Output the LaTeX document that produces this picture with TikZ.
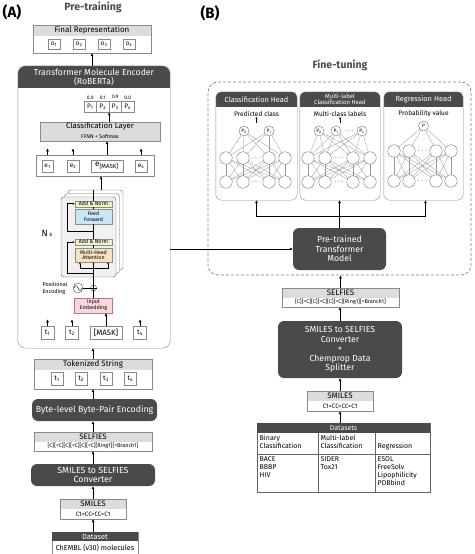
\documentclass[tikz,border=0pt]{standalone}
\usepackage{fontspec}
\setmainfont{Fira Sans}
\usetikzlibrary{arrows.meta,positioning}

\definecolor{darkhead}{HTML}{4A4A4A}
\definecolor{bandgray}{HTML}{DCDCDC}
\definecolor{linegray}{HTML}{8A8A8A}
\definecolor{layergray}{HTML}{F0F0F0}
\definecolor{ffblue}{HTML}{C8E6F3}
\definecolor{mhaorange}{HTML}{F9E1BE}
\definecolor{addgreen}{HTML}{EFF3C8}
\definecolor{embpink}{HTML}{F7D9DD}
\definecolor{embborder}{HTML}{B07A80}

\newcommand{\fsz}[2]{\fontsize{#1}{#2}\selectfont}

\begin{document}
\begin{tikzpicture}[x=1pt, y=-1pt,
  >={Latex[length=3pt,width=3pt]},
  arr/.style={->, line width=0.8pt},
  sarr/.style={-{Latex[length=2pt,width=2pt]}, line width=0.45pt},
  panel/.style={rectangle, draw=linegray, fill=white, inner sep=0pt},
  band/.style={rectangle, fill=bandgray, inner sep=0pt, anchor=north, font=\fsz{8}{8.5}},
  darkbox/.style={rectangle, rounded corners=6pt, fill=darkhead, text=white, align=center, inner sep=0pt, font=\fsz{8.8}{9.6}},
  tok/.style={rectangle, draw=linegray, fill=white, inner sep=0pt, minimum width=12pt, minimum height=12pt, font=\fsz{6.5}{7}},
  layer/.style={rectangle, rounded corners=3pt, draw=black!60, minimum width=55pt, minimum height=80pt, inner sep=0pt},
  sub/.style={rectangle, draw=black!45, inner sep=0pt, minimum width=37pt, align=center, font=\fsz{5.3}{5.6}},
  head/.style={rectangle, inner sep=0pt, minimum height=108pt},
  neuron/.style={circle, draw=black!55, fill=white, minimum size=12.5pt, inner sep=0pt},
  outn/.style={circle, draw=black!55, fill=white, minimum size=10pt, inner sep=0pt, font=\fsz{4.8}{5}},
  wire/.style={draw=black!40, line width=0.3pt},
  lbl/.style={font=\fsz{6.6}{7.5}, align=center, inner sep=0pt},
  cell/.style={font=\fsz{7}{8}, align=left, inner sep=0pt, anchor=north west},
  font=\fsz{7}{8}
]
\useasboundingbox (0,0) rectangle (474,554);

% titles
\node[font=\bfseries\fsz{15}{16}] (tagA) at (12,12) {(A)};
\node[font=\bfseries\fsz{10.5}{11}, text=darkhead] (pretitle) at (93,7) {Pre-training};
\node[font=\bfseries\fsz{15}{16}] (tagB) at (210,13) {(B)};
\node[font=\bfseries\fsz{10.5}{11}, text=darkhead] (finetitle) at (340,65) {Fine-tuning};

% final representation
\node[panel, minimum width=118pt, minimum height=28pt] (finalrep) at (92,39) {};
\node[band, minimum width=117pt, minimum height=10pt] (finalhd) at ([yshift=-0.5pt]finalrep.north) {Final Representation};
\foreach \x [count=\i] in {54,79,104,129}
  \node[tok, minimum height=10pt] (o\i) at (\x,44.5) {o\textsubscript{\i}};

% encoder
\node[minimum width=152pt, minimum height=282pt, inner sep=0pt] (encoder) at (94,207) {};
\begin{scope}
  \clip[rounded corners=8pt] (encoder.north west) rectangle (encoder.south east);
  \fill[darkhead] (encoder.north west) rectangle ([yshift=-22pt]encoder.north east);
\end{scope}
\draw[linegray, rounded corners=8pt] (encoder.north west) rectangle (encoder.south east);
\node[text=white, align=center, font=\fsz{8.7}{8.4}] (enctitle) at (94,77.5) {Transformer Molecule Encoder\\(RoBERTa)};
\draw[arr] (finalrep.south |- encoder.north) -- (finalrep.south);

\foreach \x/\v [count=\i] in {90.25/0.0,102.75/0.1,115.25/0.9,127.75/0.0} {
  \node[tok, minimum width=12.5pt, minimum height=11pt] (p\i) at (\x,106.5) {P\textsubscript{\i}};
  \node[font=\fsz{5}{5}, inner sep=0pt, above=1.5pt of p\i] (v\i) {\v};
}

\node[panel, fill=bandgray, minimum width=120pt, minimum height=19pt] (classlayer) at (100,131.5) {};
\node[font=\fsz{7.8}{8}] (cltitle) at (100,126.5) {Classification Layer};
\node[font=\fsz{5.3}{5.5}] (clsub) at (100,136.3) {FFNN + Softmax};
\draw[arr] (p2.east |- classlayer.north) -- (p2.south east);

\node[panel, minimum width=118pt, minimum height=21pt] (erow) at (95,165.5) {};
\node[tok, minimum width=11pt] (e1) at (47.5,166) {e\textsubscript{1}};
\node[tok] (e2) at (73,166) {e\textsubscript{2}};
\node[tok, minimum width=32pt, font=\fsz{8}{8}] (emask) at (107,166) {e\textsubscript{[MASK]}};
\node[tok] (e4) at (141,166) {e\textsubscript{4}};
\foreach \n in {e1,e2,e4}
  \draw[arr] (\n |- erow.north) -- ++(0,-6.5);
\draw[arr] (emask |- erow.north) -- (emask |- classlayer.south);

% transformer block
\node[layer, fill=white] (layer3) at (95.5,230) {};
\node[layer, fill=white] (layer2) at (92,233.5) {};
\node[layer, fill=layergray] (layer1) at (88.5,237) {};
\draw[arr] ([xshift=5.5pt]layer3.north) -- ([xshift=5.5pt]layer3.north |- erow.south);
\node[font=\fsz{9}{9}] (nx) at (47,233) {N\,{\fsz{6}{6}x}};

\node[sub, fill=addgreen, minimum height=6pt] (addnorm1) at (93.5,203.7) {Add \& Norm};
\node[sub, fill=ffblue, minimum height=15pt] (ff) at (93.5,216.5) {Feed\\Forward};
\node[sub, fill=addgreen, minimum height=6pt] (addnorm2) at (93.5,242) {Add \& Norm};
\node[sub, fill=mhaorange, minimum height=14pt] (mha) at (93.5,255) {Multi-Head\\Attention};
\node[sub, fill=embpink, draw=embborder, minimum width=38pt, minimum height=15pt] (inputemb) at (93.5,305.5) {Input\\Embedding};

\node[font=\fsz{5.5}{7}, align=left, inner sep=0pt] (postxt) at (55,288.5) {Positional\\Encoding};
\node[circle, draw=black!70, minimum size=10pt, inner sep=0pt] (posenc) at (78,288) {};
\draw[line width=0.4pt] (74,288) sin (76,285.5) cos (78,288) sin (80,290.5) cos (82,288);
\node[circle, draw=black!70, minimum size=6pt, inner sep=0pt] (plus) at (93.5,288) {};
\draw[line width=0.4pt] (plus.north) -- (plus.south) (plus.west) -- (plus.east);
\draw[line width=0.4pt] (posenc) -- (plus);

\coordinate (mhain) at (93.5,268);
\coordinate (res1) at (93.5,231);
\coordinate (res2) at (93.5,273);
\draw[line width=0.45pt] (inputemb.north) -- (plus.south);
\draw[line width=0.45pt] (plus.north) -- (mhain);
\draw[sarr] (mhain) -- (mha.south);
\draw[sarr] (mhain) -| ([xshift=-13.5pt]mha.south);
\draw[sarr] (mhain) -| ([xshift=14.5pt]mha.south);
\draw[line width=0.45pt] (mha.north) -- (addnorm2.south);
\draw[line width=0.45pt] (addnorm2.north) -- (ff.south);
\draw[line width=0.45pt] (ff.north) -- (addnorm1.south);
\draw[line width=0.45pt] (addnorm1.north) -- (addnorm1.north |- layer3.north);
\draw[sarr] (res1) -- (67,231) |- (addnorm1.west);
\draw[sarr] (res2) -- (67,273) |- (addnorm2.west);

\node[tok, minimum width=13pt, minimum height=13pt, font=\fsz{7}{7}] (t1) at (47.5,332.5) {t\textsubscript{1}};
\node[tok, minimum width=13pt, minimum height=13pt, font=\fsz{7}{7}] (t2) at (72,332.5) {t\textsubscript{2}};
\node[tok, minimum width=32pt, minimum height=13pt, font=\fsz{7.8}{8}] (tmask) at (106,332.5) {[MASK]};
\node[tok, minimum width=13pt, minimum height=13pt, font=\fsz{7}{7}] (t4) at (140,332.5) {t\textsubscript{4}};
\foreach \n in {t1,t2,t4}
  \draw[arr] (\n.north) -- ++(0,-6.5);
\draw[arr] (tmask.north) -- (tmask.north |- inputemb.south);

% pre-training pipeline
\node[panel, minimum width=118pt, minimum height=30pt] (tokstr) at (93,374) {};
\node[band, minimum width=117pt, minimum height=10pt] (tokstrhd) at ([yshift=-0.5pt]tokstr.north) {Tokenized String};
\foreach \x [count=\i] in {57,81,106,130.5}
  \node[tok, minimum height=13pt, font=\fsz{7}{7}] (s\i) at (\x,378.5) {t\textsubscript{\i}};
\draw[arr] (tokstr.north) -- (tokstr.north |- encoder.south);

\node[darkbox, minimum width=125pt, minimum height=22pt] (bpe) at (94.5,410) {Byte-level Byte-Pair Encoding};
\draw[arr] (bpe.north -| tokstr.south) -- (tokstr.south);

\node[panel, minimum width=118pt, minimum height=19pt] (selfies1) at (93,441.5) {};
\node[band, minimum width=117pt, minimum height=9pt] (selfies1hd) at ([yshift=-0.5pt]selfies1.north) {SELFIES};
\node[font=\fsz{5.5}{6}] (selfies1txt) at (93,446.3) {[C][=C][C][=C][C][=C][Ring1][=Branch1]};
\draw[arr] (selfies1.north) -- (selfies1.north |- bpe.south);

\node[darkbox, minimum width=124pt, minimum height=22pt] (conv1) at (93,475) {SMILES to SELFIES\\Converter};
\draw[arr] (conv1.north) -- (selfies1.south);

\node[panel, minimum width=66pt, minimum height=20pt] (smiles1) at (93,509) {};
\node[band, minimum width=65pt, minimum height=9pt] (smiles1hd) at ([yshift=-0.5pt]smiles1.north) {SMILES};
\node[font=\fsz{6.3}{6.5}] (smiles1txt) at (93,514) {C1=CC=CC=C1};
\draw[arr] (smiles1.north) -- (conv1.south);

\node[panel, minimum width=86pt, minimum height=22pt] (dataset1) at (95,543) {};
\node[band, fill=darkhead, text=white, minimum width=86pt, minimum height=9pt, font=\fsz{7.5}{8}] (dataset1hd) at (dataset1.north) {Dataset};
\node[font=\fsz{7.2}{8}] (dataset1txt) at (95,547.5) {ChEMBL (v30) molecules};
\draw[arr] (smiles1.south |- dataset1.north) -- (smiles1.south);

% fine-tuning
\node[draw=black!50, dashed, dash pattern=on 3pt off 2pt, line width=0.7pt, rounded corners=10pt, minimum width=263pt, minimum height=193pt, inner sep=0pt] (ftbox) at (339.5,178.5) {};

\node[head, minimum width=81pt] (chead) at (256.5,146) {};
\node[head, minimum width=80pt] (mhead) at (340,146) {};
\node[head, minimum width=79pt] (rhead) at (423.5,146) {};
\foreach \h in {chead,mhead,rhead} {
  \begin{scope}
    \clip[rounded corners=6pt] (\h.north west) rectangle (\h.south east);
    \fill[darkhead] (\h.north west) rectangle ([yshift=-15pt]\h.north east);
  \end{scope}
  \draw[linegray, rounded corners=6pt] (\h.north west) rectangle (\h.south east);
}
\node[text=white, font=\fsz{7.4}{8}] (chtitle) at (256.5,99.5) {Classification Head};
\node[text=white, font=\fsz{6}{6.3}, align=center] (mhtitle) at (340,99.5) {Multi-label\\Classification Head};
\node[text=white, font=\fsz{7.4}{8}] (rhtitle) at (423.5,99.5) {Regression Head};

% classification head
\node[lbl] (predcls) at (256.5,114) {Predicted class};
\draw[sarr] ([yshift=-6pt]predcls.south) -- (predcls.south);
\node[outn] (cp0) at (244,131) {P\textsubscript{0}};
\node[outn] (cp1) at (269,131) {P\textsubscript{1}};
\foreach \x [count=\i] in {226,243,269,285} {
  \node[neuron] (ct\i) at (\x,158) {};
  \node[neuron] (cb\i) at (\x,182) {};
}
\node[inner sep=0pt] (cdots1) at (256,158) {$\cdots$};
\node[inner sep=0pt] (cdots2) at (256,182) {$\cdots$};
\foreach \i in {1,...,4} {
  \foreach \j in {1,...,4}
    \draw[wire] (ct\i) -- (cb\j);
  \draw[wire] (cp0) -- (ct\i);
  \draw[wire] (cp1) -- (ct\i);
}

% multi-label head
\node[lbl] (multicls) at (340,114) {Multi-class labels};
\draw[sarr] ([yshift=-6pt]multicls.south) -- (multicls.south);
\node[outn] (mp0) at (319,131) {P\textsubscript{0}};
\node[outn] (mp1) at (336,131) {P\textsubscript{1}};
\node[inner sep=0pt] (mpdots) at (349,131) {$\cdots$};
\node[outn] (mpn) at (362,131) {P\textsubscript{n}};
\foreach \x [count=\i] in {308,325,353,370} {
  \node[neuron] (mt\i) at (\x,158) {};
  \node[neuron] (mb\i) at (\x,182) {};
}
\node[inner sep=0pt] (mdots1) at (339,158) {$\cdots$};
\node[inner sep=0pt] (mdots2) at (339,182) {$\cdots$};
\foreach \i in {1,...,4} {
  \foreach \j in {1,...,4}
    \draw[wire] (mt\i) -- (mb\j);
  \foreach \p in {mp0,mp1,mpn}
    \draw[wire] (\p) -- (mt\i);
}

% regression head
\node[lbl] (probval) at (423.5,114) {Probability value};
\node[outn] (rp) at (423.5,126) {P};
\foreach \x [count=\i] in {394,409,436,451} {
  \node[neuron] (rt\i) at (\x,151) {};
  \node[neuron] (rb\i) at (\x,181) {};
}
\node[inner sep=0pt] (rdots1) at (422.5,151) {$\cdots$};
\node[inner sep=0pt] (rdots2) at (422.5,181) {$\cdots$};
\foreach \i in {1,...,4} {
  \foreach \j in {1,...,4}
    \draw[wire] (rt\i) -- (rb\j);
  \draw[wire] (rp) -- (rt\i);
}

\node[darkbox, minimum width=93pt, minimum height=42pt, font=\fsz{8.7}{9.6}] (pretrained) at (339.5,249) {Pre-trained\\Transformer\\Model};
\coordinate (fan) at (339.5,216);
\draw[arr] (pretrained.north) -- (pretrained.north |- mhead.south);
\draw[arr] (fan) -| (chead.south);
\draw[arr] (fan) -| ([xshift=2pt]rhead.south);
\draw[arr] (encoder.east |- pretrained.west) -- (pretrained.west);

\node[panel, minimum width=117pt, minimum height=19pt] (selfies2) at (340.5,297.5) {};
\node[band, minimum width=116pt, minimum height=9pt] (selfies2hd) at ([yshift=-0.5pt]selfies2.north) {SELFIES};
\node[font=\fsz{5.5}{6}] (selfies2txt) at (340.5,302.3) {[C][=C][C][=C][C][=C][Ring1][=Branch1]};
\draw[arr] (selfies2.north) -- (selfies2.north |- ftbox.south);

\node[darkbox, minimum width=124pt, minimum height=57pt, font=\fsz{8.7}{9.6}] (conv2) at (340,349.5) {SMILES to SELFIES\\Converter\\+\\Chemprop Data\\Splitter};
\draw[arr] (conv2.north) -- (conv2.north |- selfies2.south);

\node[panel, minimum width=66pt, minimum height=20pt] (smiles2) at (340,401) {};
\node[band, minimum width=65pt, minimum height=9pt] (smiles2hd) at ([yshift=-0.5pt]smiles2.north) {SMILES};
\node[font=\fsz{6.3}{6.5}] (smiles2txt) at (340,406) {C1=CC=CC=C1};
\draw[arr] (smiles2.north) -- (conv2.south);

% datasets table
\node[panel, draw=black!60, minimum width=173pt, minimum height=69pt] (dsets) at (343.5,457.5) {};
\node[band, fill=darkhead, text=white, minimum width=173pt, minimum height=10pt, font=\fsz{7}{7.5}] (dsetshd) at (dsets.north) {Datasets};
\draw[black!60, line width=0.5pt] (257,454) -- (430,454) (318,433) -- (318,492) (375,433) -- (375,492);
\draw[arr] (smiles2.south |- dsets.north) -- (smiles2.south);
\node[cell] (binhd) at (259.5,435) {Binary\\Classification};
\node[cell] (mlhd) at (320.5,435) {Multi-label\\Classification};
\node[cell] (reghd) at (377.5,443) {Regression};
\node[cell] (binds) at (259.5,456) {BACE\\BBBP\\HIV};
\node[cell] (mlds) at (320.5,456) {SIDER\\Tox21};
\node[cell] (regds) at (377.5,456) {ESOL\\FreeSolv\\Lipophilicity\\PDBbind};
\end{tikzpicture}
\end{document}
